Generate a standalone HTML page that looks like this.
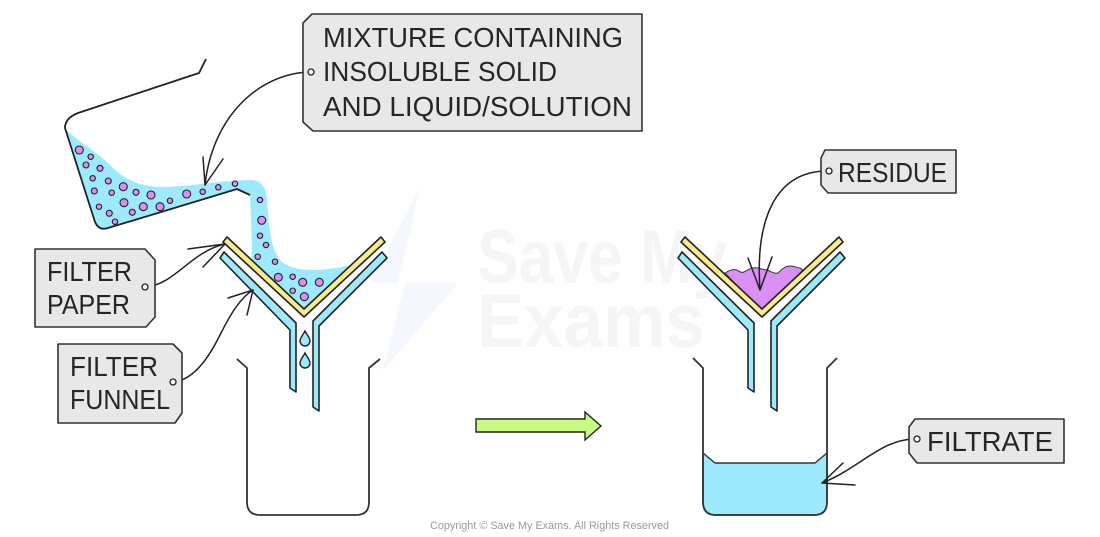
<!DOCTYPE html>
<html>
<head>
<meta charset="utf-8">
<style>
html,body{margin:0;padding:0;background:#fff;}
svg{display:block;}
text{font-family:"Liberation Sans",sans-serif;}
</style>
</head>
<body>
<svg width="1100" height="537" viewBox="0 0 1100 537" xmlns="http://www.w3.org/2000/svg">
  <!-- watermark -->
  <polygon points="420,187 398,283 458,283 382,372 405,283 370,283" fill="#f5f7fe"/>
  <text x="477" y="283" font-size="76" font-weight="bold" fill="#f5f5f5" textLength="250" lengthAdjust="spacingAndGlyphs">Save My</text>
  <text x="477" y="347" font-size="76" font-weight="bold" fill="#f5f5f5" textLength="228" lengthAdjust="spacingAndGlyphs">Exams</text>

  <!-- LEFT: liquid pouring -->
  <path d="M65,128 C75,140 95,150 110,165 C125,180 140,187 165,187 C195,186 225,180 250,180 C262,180 266,188 267,200 C269,225 270,250 282,262 C295,272 320,272 352,265 L304,312 L252,262 C252,240 251,215 250,196 L237,189 L105,229 Q97,230 95,222 Z" fill="#9deafc"/>
  <!-- tilted beaker outline -->
  <path d="M206,59 L199,73 L78,113 Q65,118 65,128 L95,222 Q99,231 108,228 L237,189 L250,195" fill="none" stroke="#222" stroke-width="1.8" stroke-linejoin="round"/>

  <!-- particles -->
  <g fill="#d98ff5" stroke="#222" stroke-width="1.1">
    <circle cx="79.3" cy="150" r="4"/>
    <circle cx="90.7" cy="156.7" r="2.7"/>
    <circle cx="86" cy="165" r="3"/>
    <circle cx="100" cy="168.3" r="3"/>
    <circle cx="92.7" cy="178.3" r="2.7"/>
    <circle cx="108.3" cy="181" r="3"/>
    <circle cx="123.3" cy="186.7" r="4"/>
    <circle cx="94.3" cy="191" r="3"/>
    <circle cx="111.7" cy="192.7" r="2.7"/>
    <circle cx="136" cy="192.3" r="3"/>
    <circle cx="151" cy="195" r="4"/>
    <circle cx="124" cy="202.7" r="4"/>
    <circle cx="170" cy="200.7" r="2.7"/>
    <circle cx="186.7" cy="194" r="4"/>
    <circle cx="202.7" cy="191.7" r="2.7"/>
    <circle cx="218.3" cy="187.3" r="2.7"/>
    <circle cx="235" cy="183.7" r="2.7"/>
    <circle cx="99" cy="206.7" r="2.7"/>
    <circle cx="143.3" cy="206.7" r="4"/>
    <circle cx="160" cy="206.7" r="4"/>
    <circle cx="109.3" cy="213.3" r="3"/>
    <circle cx="132.3" cy="212.3" r="3"/>
    <circle cx="115" cy="221.7" r="2.7"/>
    <circle cx="260" cy="200" r="2.7"/>
    <circle cx="261.7" cy="220.3" r="4"/>
    <circle cx="260" cy="235.7" r="2.7"/>
    <circle cx="266" cy="245" r="2.7"/>
    <circle cx="257.7" cy="256.7" r="2.7"/>
    <circle cx="275" cy="261.7" r="2.7"/>
    <circle cx="278.3" cy="277.3" r="4"/>
    <circle cx="292.7" cy="276.7" r="2.7"/>
    <circle cx="302.7" cy="282.3" r="4"/>
    <circle cx="319.3" cy="282.3" r="4"/>
    <circle cx="292.7" cy="290.7" r="2.7"/>
    <circle cx="304.3" cy="296.7" r="4"/>
  </g>

  <!-- LEFT funnel + paper -->
  <g stroke="#222" stroke-width="1.6" stroke-linejoin="round">
    <polygon points="227,237 304,309 381,237 385,242 304,317 223,242" fill="#faec8b"/>
    <polygon points="224,252 296,323 296,392 290,388 290,330 220,258" fill="#9deafc"/>
    <polygon points="382,252 387,258 319,326 319,411 313,407 313,321" fill="#9deafc"/>
  </g>
  <!-- droplets -->
  <g fill="#9deafc" stroke="#222" stroke-width="1.4">
    <path d="M305,331 C303,335 300,338 300,341 A5,5 0 0 0 310,341 C310,338 307,335 305,331 Z"/>
    <path d="M305,353 C303,357 300,360 300,363 A5,5 0 0 0 310,363 C310,360 307,357 305,353 Z"/>
  </g>
  <!-- LEFT beaker -->
  <path d="M237,359 L247,368 L247,502 Q247,515 260,515 L356,515 Q369,515 369,502 L369,368 L380,359" fill="none" stroke="#333" stroke-width="1.8" stroke-linejoin="round"/>

  <!-- green arrow -->
  <polygon points="476,419 585,419 585,412 601,426 585,440 585,432 476,432" fill="#c8fb86" stroke="#222" stroke-width="1.4" stroke-linejoin="miter"/>

  <!-- RIGHT: residue -->
  <path d="M725,273 C730,270 733,269 737,270 C740,272 742,273 744,272 C750,268 754,267 758,268 C762,269 764,270 767,270 C772,272 775,274 778,273 C783,268 786,266 790,266 C795,266 797,268 800,268 L803,270 L762,312 Z" fill="#d98ff5" stroke="#333" stroke-width="1"/>
  <g transform="translate(458,0)" stroke="#222" stroke-width="1.6" stroke-linejoin="round">
    <polygon points="227,237 304,309 381,237 385,242 304,317 223,242" fill="#faec8b"/>
    <polygon points="224,252 296,323 296,392 290,388 290,330 220,258" fill="#9deafc"/>
    <polygon points="382,252 387,258 319,326 319,411 313,407 313,321" fill="#9deafc"/>
  </g>
  <!-- RIGHT beaker filtrate -->
  <path d="M703,453 L715,463 L815,463 L827,453 L827,502 Q827,515 814,515 L716,515 Q703,515 703,502 Z" fill="#9deafc" stroke="#333" stroke-width="1.4" stroke-linejoin="round"/>
  <path d="M693,358 L703,368 L703,502 Q703,515 716,515 L814,515 Q827,515 827,502 L827,368 L837,358" fill="none" stroke="#333" stroke-width="1.8" stroke-linejoin="round"/>

  <!-- connectors -->
  <g fill="none" stroke="#222" stroke-width="1.5" stroke-linecap="round" stroke-linejoin="round">
    <path d="M308,72 C255,75 212,120 205,185"/>
    <path d="M203,157 L205,185 L223,159"/>
    <path d="M145,287 C175,285 190,252 225,244"/>
    <path d="M188,249 L225,244 L203,267"/>
    <path d="M173,382 C195,380 210,355 220,335 C230,315 240,298 253,290"/>
    <path d="M228,298 L253,290 L247,315"/>
    <path d="M826,171 C775,172 755,220 760,290"/>
    <path d="M748,258 L760,290 L772,257"/>
    <path d="M914,439 C880,440 860,468 822,483"/>
    <path d="M843,463 L822,483 L855,485"/>
  </g>

  <!-- labels -->
  <g fill="#e8e8e8" stroke="#333" stroke-width="1.6" stroke-linejoin="round">
    <path d="M312,14 L642,14 L642,131 L313,131 L303,122 L303,23 Z"/>
    <path d="M35,249 L145,249 L155,260 L155,317 L146,327 L35,327 Z"/>
    <path d="M58,344 L173,344 L182,353 L182,413 L175,423 L58,423 Z"/>
    <path d="M825,150 L956,150 L956,193 L828,193 L821,185 L821,158 Z"/>
    <path d="M915,419 L1064,419 L1064,463 L917,463 L909,453 L909,427 Z"/>
  </g>
  <g fill="#fff" stroke="#222" stroke-width="1.3">
    <circle cx="311" cy="72" r="3"/>
    <circle cx="145" cy="287" r="3"/>
    <circle cx="173" cy="382" r="3"/>
    <circle cx="829" cy="171" r="3"/>
    <circle cx="917" cy="439" r="3"/>
  </g>
  <g fill="#262626" font-size="28">
    <text x="323" y="47" textLength="300" lengthAdjust="spacingAndGlyphs">MIXTURE  CONTAINING</text>
    <text x="323" y="81" textLength="234" lengthAdjust="spacingAndGlyphs">INSOLUBLE  SOLID</text>
    <text x="323" y="116" textLength="309" lengthAdjust="spacingAndGlyphs">AND LIQUID/SOLUTION</text>
    <text x="47" y="281" textLength="85" lengthAdjust="spacingAndGlyphs">FILTER</text>
    <text x="47" y="314" textLength="83" lengthAdjust="spacingAndGlyphs">PAPER</text>
    <text x="70" y="376" textLength="88" lengthAdjust="spacingAndGlyphs">FILTER</text>
    <text x="70" y="409" textLength="100" lengthAdjust="spacingAndGlyphs">FUNNEL</text>
    <text x="838" y="182" textLength="109" lengthAdjust="spacingAndGlyphs">RESIDUE</text>
    <text x="927" y="451" textLength="126" lengthAdjust="spacingAndGlyphs">FILTRATE</text>
  </g>

  <text x="430" y="529" font-size="11" fill="#9a9a9a" textLength="239" lengthAdjust="spacingAndGlyphs">Copyright © Save My Exams. All Rights Reserved</text>
</svg>
</body>
</html>
